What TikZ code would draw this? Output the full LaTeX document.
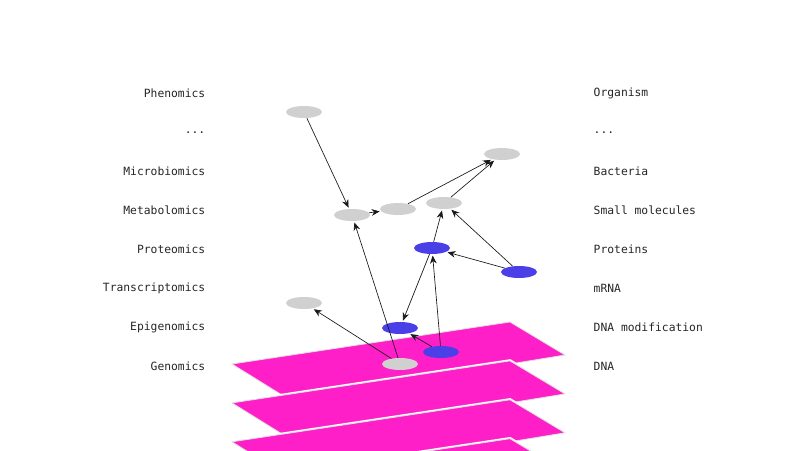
\documentclass[tikz,border=0pt]{standalone}
\usepackage{fontspec}
\setmainfont{DejaVu Sans Mono}
\usetikzlibrary{shapes.geometric, patterns, arrows.meta}
\definecolor{omicpink}{HTML}{FF1FC8}
\definecolor{omicblue}{HTML}{4B3FE8}
\definecolor{omicgray}{HTML}{D0D0D0}
\newcommand{\omicdots}{...}
\tikzset{
    layer/.style={fill=omicpink, draw=black!12, line width=0.6pt},
    dense layer/.style={fill=white, draw=black!12, line width=0.6pt, postaction={pattern=crosshatch dots, pattern color=omicpink}},
    sparse layer/.style={fill=white, draw=black!12, line width=0.6pt, postaction={pattern=dots, pattern color=omicpink}},
    mol/.style={ellipse, minimum width=27pt, minimum height=9pt, inner sep=0pt, fill=omicgray},
    blue mol/.style={mol, fill=omicblue},
    lab/.style={font=\fontsize{8.5}{10}\selectfont, text=black!85},
    link/.style={-{Stealth[length=6pt, width=5pt]}, line width=0.5pt, black!90, shorten >=1pt},
}
\begin{document}
\begin{tikzpicture}[x=0.75pt, y=-0.75pt]
    \useasboundingbox (0,0) rectangle (800,450);
    % layers, bottom to top
    \foreach \i/\st in {0/layer, 1/layer, 2/layer, 3/layer, 4/layer, 5/layer, 6/dense layer, 7/sparse layer} {
        \begin{scope}[yshift={-38.9*0.75*\i pt}]
            \draw[white, line width=2.5pt, fill=white] (232,364) -- (290,400) -- (565,355) -- (510,322) -- cycle;
            \path[\st] (232,364) -- (290,400) -- (565,355) -- (510,322) -- cycle;
        \end{scope}
    }
    % labels
    \foreach \n/\l/\r [count=\i from 0] in {gen/Genomics/DNA, epi/Epigenomics/DNA modification,
            tra/Transcriptomics/mRNA, pro/Proteomics/Proteins, met/Metabolomics/Small molecules,
            mic/Microbiomics/Bacteria, etc/\omicdots/\omicdots, phe/Phenomics/Organism} {
        \node[lab, anchor=east] (\n-l) at (210,366-38.9*\i) {\l};
        \node[lab, anchor=west] (\n-r) at (589,366-38.9*\i) {\r};
    }
    % molecules
    \node[mol] (organism) at (304,112) {};
    \node[mol] (bacteria) at (502,154) {};
    \node[mol] (metA) at (352,215) {};
    \node[mol] (metB) at (398,209) {};
    \node[mol] (metC) at (444,203) {};
    \node[blue mol] (protein) at (432,248) {};
    \node[blue mol] (mrna) at (519,272) {};
    \node[mol] (transcript) at (304,303) {};
    \node[blue mol] (methyl) at (400,328) {};
    \node[blue mol] (dnaB) at (441,352) {};
    \node[mol] (dnaA) at (400,364) {};
    % links
    \draw[link] (organism) -- (metA);
    \draw[link] (metA) -- (metB);
    \draw[link] (metB) -- (bacteria);
    \draw[link] (metC) -- (bacteria);
    \draw[link] (protein) -- (metC);
    \draw[link] (mrna) -- (metC);
    \draw[link] (mrna) -- (protein);
    \draw[link] (protein) -- (methyl);
    \draw[link] (dnaB) -- (protein);
    \draw[link] (dnaB) -- (methyl);
    \draw[link] (dnaA) -- (transcript);
    \draw[link] (dnaA) -- (metA);
\end{tikzpicture}
\end{document}
